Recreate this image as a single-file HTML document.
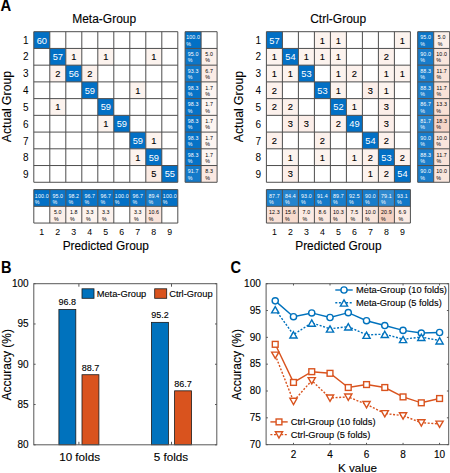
<!DOCTYPE html>
<html><head><meta charset="utf-8"><style>
html,body{margin:0;padding:0;background:#fff;}
body{width:450px;height:473px;overflow:hidden;}
svg{display:block;}
text{font-family:"Liberation Sans", sans-serif;}
text.k{stroke:#000;stroke-width:0.12px;}
</style></head><body>
<svg width="450" height="473" viewBox="0 0 450 473" font-family='"Liberation Sans", sans-serif'>
<rect width="450" height="473" fill="#fff"/>
<text x="0" y="0" font-size="14.8" font-weight="bold" transform="translate(0.4,11.2) scale(1,1.1)">A</text>
<text x="0" y="0" font-size="14.6" font-weight="bold" transform="translate(0.9,272.7) scale(1,1.1)">B</text>
<text x="0" y="0" font-size="14.6" font-weight="bold" transform="translate(230.5,272.8) scale(1,1.1)">C</text>
<rect x="33.80" y="31.70" width="16.00" height="16.73" fill="#0270c5"/>
<text x="41.80" y="43.56" font-size="9.3" text-anchor="middle" fill="#fff" font-weight="normal" >60</text>
<rect x="49.80" y="48.43" width="16.00" height="16.73" fill="#0270c5"/>
<text x="57.80" y="60.30" font-size="9.3" text-anchor="middle" fill="#fff" font-weight="normal" >57</text>
<rect x="65.80" y="48.43" width="16.00" height="16.73" fill="#fcf3ee"/>
<text x="73.80" y="60.30" font-size="9.3" text-anchor="middle" fill="#000" font-weight="normal"  stroke="#000" stroke-width="0.12">1</text>
<rect x="97.80" y="48.43" width="16.00" height="16.73" fill="#fcf3ee"/>
<text x="105.80" y="60.30" font-size="9.3" text-anchor="middle" fill="#000" font-weight="normal"  stroke="#000" stroke-width="0.12">1</text>
<rect x="145.80" y="48.43" width="16.00" height="16.73" fill="#fcf3ee"/>
<text x="153.80" y="60.30" font-size="9.3" text-anchor="middle" fill="#000" font-weight="normal"  stroke="#000" stroke-width="0.12">1</text>
<rect x="49.80" y="65.16" width="16.00" height="16.73" fill="#fcf1ec"/>
<text x="57.80" y="77.02" font-size="9.3" text-anchor="middle" fill="#000" font-weight="normal"  stroke="#000" stroke-width="0.12">2</text>
<rect x="65.80" y="65.16" width="16.00" height="16.73" fill="#0270c5"/>
<text x="73.80" y="77.02" font-size="9.3" text-anchor="middle" fill="#fff" font-weight="normal" >56</text>
<rect x="81.80" y="65.16" width="16.00" height="16.73" fill="#fcf1ec"/>
<text x="89.80" y="77.02" font-size="9.3" text-anchor="middle" fill="#000" font-weight="normal"  stroke="#000" stroke-width="0.12">2</text>
<rect x="81.80" y="81.89" width="16.00" height="16.73" fill="#0270c5"/>
<text x="89.80" y="93.75" font-size="9.3" text-anchor="middle" fill="#fff" font-weight="normal" >59</text>
<rect x="129.80" y="81.89" width="16.00" height="16.73" fill="#fcf3ee"/>
<text x="137.80" y="93.75" font-size="9.3" text-anchor="middle" fill="#000" font-weight="normal"  stroke="#000" stroke-width="0.12">1</text>
<rect x="49.80" y="98.62" width="16.00" height="16.73" fill="#fcf3ee"/>
<text x="57.80" y="110.48" font-size="9.3" text-anchor="middle" fill="#000" font-weight="normal"  stroke="#000" stroke-width="0.12">1</text>
<rect x="97.80" y="98.62" width="16.00" height="16.73" fill="#0270c5"/>
<text x="105.80" y="110.48" font-size="9.3" text-anchor="middle" fill="#fff" font-weight="normal" >59</text>
<rect x="97.80" y="115.35" width="16.00" height="16.73" fill="#fcf3ee"/>
<text x="105.80" y="127.22" font-size="9.3" text-anchor="middle" fill="#000" font-weight="normal"  stroke="#000" stroke-width="0.12">1</text>
<rect x="113.80" y="115.35" width="16.00" height="16.73" fill="#0270c5"/>
<text x="121.80" y="127.22" font-size="9.3" text-anchor="middle" fill="#fff" font-weight="normal" >59</text>
<rect x="129.80" y="132.08" width="16.00" height="16.73" fill="#0270c5"/>
<text x="137.80" y="143.94" font-size="9.3" text-anchor="middle" fill="#fff" font-weight="normal" >59</text>
<rect x="145.80" y="132.08" width="16.00" height="16.73" fill="#fcf3ee"/>
<text x="153.80" y="143.94" font-size="9.3" text-anchor="middle" fill="#000" font-weight="normal"  stroke="#000" stroke-width="0.12">1</text>
<rect x="129.80" y="148.81" width="16.00" height="16.73" fill="#fcf3ee"/>
<text x="137.80" y="160.68" font-size="9.3" text-anchor="middle" fill="#000" font-weight="normal"  stroke="#000" stroke-width="0.12">1</text>
<rect x="145.80" y="148.81" width="16.00" height="16.73" fill="#0270c5"/>
<text x="153.80" y="160.68" font-size="9.3" text-anchor="middle" fill="#fff" font-weight="normal" >59</text>
<rect x="145.80" y="165.54" width="16.00" height="16.73" fill="#faeae3"/>
<text x="153.80" y="177.41" font-size="9.3" text-anchor="middle" fill="#000" font-weight="normal"  stroke="#000" stroke-width="0.12">5</text>
<rect x="161.80" y="165.54" width="16.00" height="16.73" fill="#0270c5"/>
<text x="169.80" y="177.41" font-size="9.3" text-anchor="middle" fill="#fff" font-weight="normal" >55</text>
<line x1="33.80" y1="31.70" x2="33.80" y2="182.27" stroke="#4e4e4e" stroke-width="1"/>
<line x1="33.80" y1="31.70" x2="177.80" y2="31.70" stroke="#4e4e4e" stroke-width="1"/>
<line x1="49.80" y1="31.70" x2="49.80" y2="182.27" stroke="#4e4e4e" stroke-width="1"/>
<line x1="33.80" y1="48.43" x2="177.80" y2="48.43" stroke="#4e4e4e" stroke-width="1"/>
<line x1="65.80" y1="31.70" x2="65.80" y2="182.27" stroke="#4e4e4e" stroke-width="1"/>
<line x1="33.80" y1="65.16" x2="177.80" y2="65.16" stroke="#4e4e4e" stroke-width="1"/>
<line x1="81.80" y1="31.70" x2="81.80" y2="182.27" stroke="#4e4e4e" stroke-width="1"/>
<line x1="33.80" y1="81.89" x2="177.80" y2="81.89" stroke="#4e4e4e" stroke-width="1"/>
<line x1="97.80" y1="31.70" x2="97.80" y2="182.27" stroke="#4e4e4e" stroke-width="1"/>
<line x1="33.80" y1="98.62" x2="177.80" y2="98.62" stroke="#4e4e4e" stroke-width="1"/>
<line x1="113.80" y1="31.70" x2="113.80" y2="182.27" stroke="#4e4e4e" stroke-width="1"/>
<line x1="33.80" y1="115.35" x2="177.80" y2="115.35" stroke="#4e4e4e" stroke-width="1"/>
<line x1="129.80" y1="31.70" x2="129.80" y2="182.27" stroke="#4e4e4e" stroke-width="1"/>
<line x1="33.80" y1="132.08" x2="177.80" y2="132.08" stroke="#4e4e4e" stroke-width="1"/>
<line x1="145.80" y1="31.70" x2="145.80" y2="182.27" stroke="#4e4e4e" stroke-width="1"/>
<line x1="33.80" y1="148.81" x2="177.80" y2="148.81" stroke="#4e4e4e" stroke-width="1"/>
<line x1="161.80" y1="31.70" x2="161.80" y2="182.27" stroke="#4e4e4e" stroke-width="1"/>
<line x1="33.80" y1="165.54" x2="177.80" y2="165.54" stroke="#4e4e4e" stroke-width="1"/>
<line x1="177.80" y1="31.70" x2="177.80" y2="182.27" stroke="#4e4e4e" stroke-width="1"/>
<line x1="33.80" y1="182.27" x2="177.80" y2="182.27" stroke="#4e4e4e" stroke-width="1"/>
<text x="28.50" y="43.56" font-size="10" text-anchor="end" fill="#000" font-weight="normal" >1</text>
<text x="28.50" y="60.41" font-size="10" text-anchor="end" fill="#000" font-weight="normal" >2</text>
<text x="28.50" y="77.24" font-size="10" text-anchor="end" fill="#000" font-weight="normal" >3</text>
<text x="28.50" y="94.08" font-size="10" text-anchor="end" fill="#000" font-weight="normal" >4</text>
<text x="28.50" y="110.92" font-size="10" text-anchor="end" fill="#000" font-weight="normal" >5</text>
<text x="28.50" y="127.77" font-size="10" text-anchor="end" fill="#000" font-weight="normal" >6</text>
<text x="28.50" y="144.60" font-size="10" text-anchor="end" fill="#000" font-weight="normal" >7</text>
<text x="28.50" y="161.45" font-size="10" text-anchor="end" fill="#000" font-weight="normal" >8</text>
<text x="28.50" y="178.28" font-size="10" text-anchor="end" fill="#000" font-weight="normal" >9</text>
<rect x="185.10" y="31.70" width="16.00" height="16.73" fill="#0270c5"/>
<text x="186.17" y="39.40" font-size="5.3" text-anchor="start" fill="#fff" font-weight="normal" letter-spacing="0.12">100.0</text>
<text x="186.17" y="45.70" font-size="5.3" text-anchor="start" fill="#fff" font-weight="normal" >%</text>
<rect x="185.10" y="48.43" width="16.00" height="16.73" fill="#0d76c7"/>
<text x="187.70" y="56.13" font-size="5.3" text-anchor="start" fill="#fff" font-weight="normal" letter-spacing="0.12">95.0</text>
<text x="187.70" y="62.43" font-size="5.3" text-anchor="start" fill="#fff" font-weight="normal" >%</text>
<rect x="201.10" y="48.43" width="16.00" height="16.73" fill="#fbefe9"/>
<text x="205.24" y="56.13" font-size="5.3" text-anchor="start" fill="#000" font-weight="normal" letter-spacing="0.12">5.0</text>
<text x="205.24" y="62.43" font-size="5.3" text-anchor="start" fill="#000" font-weight="normal" >%</text>
<rect x="185.10" y="65.16" width="16.00" height="16.73" fill="#1078c8"/>
<text x="187.70" y="72.86" font-size="5.3" text-anchor="start" fill="#fff" font-weight="normal" letter-spacing="0.12">93.3</text>
<text x="187.70" y="79.16" font-size="5.3" text-anchor="start" fill="#fff" font-weight="normal" >%</text>
<rect x="201.10" y="65.16" width="16.00" height="16.73" fill="#fbebe5"/>
<text x="205.24" y="72.86" font-size="5.3" text-anchor="start" fill="#000" font-weight="normal" letter-spacing="0.12">6.7</text>
<text x="205.24" y="79.16" font-size="5.3" text-anchor="start" fill="#000" font-weight="normal" >%</text>
<rect x="185.10" y="81.89" width="16.00" height="16.73" fill="#0672c6"/>
<text x="187.70" y="89.59" font-size="5.3" text-anchor="start" fill="#fff" font-weight="normal" letter-spacing="0.12">98.3</text>
<text x="187.70" y="95.89" font-size="5.3" text-anchor="start" fill="#fff" font-weight="normal" >%</text>
<rect x="201.10" y="81.89" width="16.00" height="16.73" fill="#fdf5f1"/>
<text x="205.24" y="89.59" font-size="5.3" text-anchor="start" fill="#000" font-weight="normal" letter-spacing="0.12">1.7</text>
<text x="205.24" y="95.89" font-size="5.3" text-anchor="start" fill="#000" font-weight="normal" >%</text>
<rect x="185.10" y="98.62" width="16.00" height="16.73" fill="#0672c6"/>
<text x="187.70" y="106.32" font-size="5.3" text-anchor="start" fill="#fff" font-weight="normal" letter-spacing="0.12">98.3</text>
<text x="187.70" y="112.62" font-size="5.3" text-anchor="start" fill="#fff" font-weight="normal" >%</text>
<rect x="201.10" y="98.62" width="16.00" height="16.73" fill="#fdf5f1"/>
<text x="205.24" y="106.32" font-size="5.3" text-anchor="start" fill="#000" font-weight="normal" letter-spacing="0.12">1.7</text>
<text x="205.24" y="112.62" font-size="5.3" text-anchor="start" fill="#000" font-weight="normal" >%</text>
<rect x="185.10" y="115.35" width="16.00" height="16.73" fill="#0672c6"/>
<text x="187.70" y="123.05" font-size="5.3" text-anchor="start" fill="#fff" font-weight="normal" letter-spacing="0.12">98.3</text>
<text x="187.70" y="129.35" font-size="5.3" text-anchor="start" fill="#fff" font-weight="normal" >%</text>
<rect x="201.10" y="115.35" width="16.00" height="16.73" fill="#fdf5f1"/>
<text x="205.24" y="123.05" font-size="5.3" text-anchor="start" fill="#000" font-weight="normal" letter-spacing="0.12">1.7</text>
<text x="205.24" y="129.35" font-size="5.3" text-anchor="start" fill="#000" font-weight="normal" >%</text>
<rect x="185.10" y="132.08" width="16.00" height="16.73" fill="#0672c6"/>
<text x="187.70" y="139.78" font-size="5.3" text-anchor="start" fill="#fff" font-weight="normal" letter-spacing="0.12">98.3</text>
<text x="187.70" y="146.08" font-size="5.3" text-anchor="start" fill="#fff" font-weight="normal" >%</text>
<rect x="201.10" y="132.08" width="16.00" height="16.73" fill="#fdf5f1"/>
<text x="205.24" y="139.78" font-size="5.3" text-anchor="start" fill="#000" font-weight="normal" letter-spacing="0.12">1.7</text>
<text x="205.24" y="146.08" font-size="5.3" text-anchor="start" fill="#000" font-weight="normal" >%</text>
<rect x="185.10" y="148.81" width="16.00" height="16.73" fill="#0672c6"/>
<text x="187.70" y="156.51" font-size="5.3" text-anchor="start" fill="#fff" font-weight="normal" letter-spacing="0.12">98.3</text>
<text x="187.70" y="162.81" font-size="5.3" text-anchor="start" fill="#fff" font-weight="normal" >%</text>
<rect x="201.10" y="148.81" width="16.00" height="16.73" fill="#fdf5f1"/>
<text x="205.24" y="156.51" font-size="5.3" text-anchor="start" fill="#000" font-weight="normal" letter-spacing="0.12">1.7</text>
<text x="205.24" y="162.81" font-size="5.3" text-anchor="start" fill="#000" font-weight="normal" >%</text>
<rect x="185.10" y="165.54" width="16.00" height="16.73" fill="#147ac9"/>
<text x="187.70" y="173.24" font-size="5.3" text-anchor="start" fill="#fff" font-weight="normal" letter-spacing="0.12">91.7</text>
<text x="187.70" y="179.54" font-size="5.3" text-anchor="start" fill="#fff" font-weight="normal" >%</text>
<rect x="201.10" y="165.54" width="16.00" height="16.73" fill="#fae8e1"/>
<text x="205.24" y="173.24" font-size="5.3" text-anchor="start" fill="#000" font-weight="normal" letter-spacing="0.12">8.3</text>
<text x="205.24" y="179.54" font-size="5.3" text-anchor="start" fill="#000" font-weight="normal" >%</text>
<line x1="185.10" y1="31.70" x2="185.10" y2="182.27" stroke="#4e4e4e" stroke-width="1"/>
<line x1="201.10" y1="31.70" x2="201.10" y2="182.27" stroke="#4e4e4e" stroke-width="1"/>
<line x1="217.10" y1="31.70" x2="217.10" y2="182.27" stroke="#4e4e4e" stroke-width="1"/>
<line x1="185.10" y1="31.70" x2="217.10" y2="31.70" stroke="#4e4e4e" stroke-width="1"/>
<line x1="185.10" y1="48.43" x2="217.10" y2="48.43" stroke="#4e4e4e" stroke-width="1"/>
<line x1="185.10" y1="65.16" x2="217.10" y2="65.16" stroke="#4e4e4e" stroke-width="1"/>
<line x1="185.10" y1="81.89" x2="217.10" y2="81.89" stroke="#4e4e4e" stroke-width="1"/>
<line x1="185.10" y1="98.62" x2="217.10" y2="98.62" stroke="#4e4e4e" stroke-width="1"/>
<line x1="185.10" y1="115.35" x2="217.10" y2="115.35" stroke="#4e4e4e" stroke-width="1"/>
<line x1="185.10" y1="132.08" x2="217.10" y2="132.08" stroke="#4e4e4e" stroke-width="1"/>
<line x1="185.10" y1="148.81" x2="217.10" y2="148.81" stroke="#4e4e4e" stroke-width="1"/>
<line x1="185.10" y1="165.54" x2="217.10" y2="165.54" stroke="#4e4e4e" stroke-width="1"/>
<line x1="185.10" y1="182.27" x2="217.10" y2="182.27" stroke="#4e4e4e" stroke-width="1"/>
<rect x="33.80" y="189.60" width="16.00" height="16.73" fill="#0270c5"/>
<text x="34.87" y="197.50" font-size="5.3" text-anchor="start" fill="#fff" font-weight="normal" letter-spacing="0.12">100.0</text>
<text x="34.87" y="203.80" font-size="5.3" text-anchor="start" fill="#fff" font-weight="normal" >%</text>
<rect x="49.80" y="189.60" width="16.00" height="16.73" fill="#0d76c7"/>
<text x="52.40" y="197.50" font-size="5.3" text-anchor="start" fill="#fff" font-weight="normal" letter-spacing="0.12">95.0</text>
<text x="52.40" y="203.80" font-size="5.3" text-anchor="start" fill="#fff" font-weight="normal" >%</text>
<rect x="49.80" y="206.33" width="16.00" height="16.73" fill="#fbefe9"/>
<text x="53.94" y="214.23" font-size="5.3" text-anchor="start" fill="#000" font-weight="normal" letter-spacing="0.12">5.0</text>
<text x="53.94" y="220.53" font-size="5.3" text-anchor="start" fill="#000" font-weight="normal" >%</text>
<rect x="65.80" y="189.60" width="16.00" height="16.73" fill="#0672c6"/>
<text x="68.40" y="197.50" font-size="5.3" text-anchor="start" fill="#fff" font-weight="normal" letter-spacing="0.12">98.2</text>
<text x="68.40" y="203.80" font-size="5.3" text-anchor="start" fill="#fff" font-weight="normal" >%</text>
<rect x="65.80" y="206.33" width="16.00" height="16.73" fill="#fdf5f1"/>
<text x="69.94" y="214.23" font-size="5.3" text-anchor="start" fill="#000" font-weight="normal" letter-spacing="0.12">1.8</text>
<text x="69.94" y="220.53" font-size="5.3" text-anchor="start" fill="#000" font-weight="normal" >%</text>
<rect x="81.80" y="189.60" width="16.00" height="16.73" fill="#0974c7"/>
<text x="84.40" y="197.50" font-size="5.3" text-anchor="start" fill="#fff" font-weight="normal" letter-spacing="0.12">96.7</text>
<text x="84.40" y="203.80" font-size="5.3" text-anchor="start" fill="#fff" font-weight="normal" >%</text>
<rect x="81.80" y="206.33" width="16.00" height="16.73" fill="#fcf2ed"/>
<text x="85.94" y="214.23" font-size="5.3" text-anchor="start" fill="#000" font-weight="normal" letter-spacing="0.12">3.3</text>
<text x="85.94" y="220.53" font-size="5.3" text-anchor="start" fill="#000" font-weight="normal" >%</text>
<rect x="97.80" y="189.60" width="16.00" height="16.73" fill="#0974c7"/>
<text x="100.40" y="197.50" font-size="5.3" text-anchor="start" fill="#fff" font-weight="normal" letter-spacing="0.12">96.7</text>
<text x="100.40" y="203.80" font-size="5.3" text-anchor="start" fill="#fff" font-weight="normal" >%</text>
<rect x="97.80" y="206.33" width="16.00" height="16.73" fill="#fcf2ed"/>
<text x="101.94" y="214.23" font-size="5.3" text-anchor="start" fill="#000" font-weight="normal" letter-spacing="0.12">3.3</text>
<text x="101.94" y="220.53" font-size="5.3" text-anchor="start" fill="#000" font-weight="normal" >%</text>
<rect x="113.80" y="189.60" width="16.00" height="16.73" fill="#0270c5"/>
<text x="114.87" y="197.50" font-size="5.3" text-anchor="start" fill="#fff" font-weight="normal" letter-spacing="0.12">100.0</text>
<text x="114.87" y="203.80" font-size="5.3" text-anchor="start" fill="#fff" font-weight="normal" >%</text>
<rect x="129.80" y="189.60" width="16.00" height="16.73" fill="#0974c7"/>
<text x="132.40" y="197.50" font-size="5.3" text-anchor="start" fill="#fff" font-weight="normal" letter-spacing="0.12">96.7</text>
<text x="132.40" y="203.80" font-size="5.3" text-anchor="start" fill="#fff" font-weight="normal" >%</text>
<rect x="129.80" y="206.33" width="16.00" height="16.73" fill="#fcf2ed"/>
<text x="133.94" y="214.23" font-size="5.3" text-anchor="start" fill="#000" font-weight="normal" letter-spacing="0.12">3.3</text>
<text x="133.94" y="220.53" font-size="5.3" text-anchor="start" fill="#000" font-weight="normal" >%</text>
<rect x="145.80" y="189.60" width="16.00" height="16.73" fill="#197dca"/>
<text x="148.40" y="197.50" font-size="5.3" text-anchor="start" fill="#fff" font-weight="normal" letter-spacing="0.12">89.4</text>
<text x="148.40" y="203.80" font-size="5.3" text-anchor="start" fill="#fff" font-weight="normal" >%</text>
<rect x="145.80" y="206.33" width="16.00" height="16.73" fill="#f9e4db"/>
<text x="148.40" y="214.23" font-size="5.3" text-anchor="start" fill="#000" font-weight="normal" letter-spacing="0.12">10.6</text>
<text x="148.40" y="220.53" font-size="5.3" text-anchor="start" fill="#000" font-weight="normal" >%</text>
<rect x="161.80" y="189.60" width="16.00" height="16.73" fill="#0270c5"/>
<text x="162.87" y="197.50" font-size="5.3" text-anchor="start" fill="#fff" font-weight="normal" letter-spacing="0.12">100.0</text>
<text x="162.87" y="203.80" font-size="5.3" text-anchor="start" fill="#fff" font-weight="normal" >%</text>
<line x1="33.80" y1="189.60" x2="33.80" y2="223.06" stroke="#4e4e4e" stroke-width="1"/>
<line x1="49.80" y1="189.60" x2="49.80" y2="223.06" stroke="#4e4e4e" stroke-width="1"/>
<line x1="65.80" y1="189.60" x2="65.80" y2="223.06" stroke="#4e4e4e" stroke-width="1"/>
<line x1="81.80" y1="189.60" x2="81.80" y2="223.06" stroke="#4e4e4e" stroke-width="1"/>
<line x1="97.80" y1="189.60" x2="97.80" y2="223.06" stroke="#4e4e4e" stroke-width="1"/>
<line x1="113.80" y1="189.60" x2="113.80" y2="223.06" stroke="#4e4e4e" stroke-width="1"/>
<line x1="129.80" y1="189.60" x2="129.80" y2="223.06" stroke="#4e4e4e" stroke-width="1"/>
<line x1="145.80" y1="189.60" x2="145.80" y2="223.06" stroke="#4e4e4e" stroke-width="1"/>
<line x1="161.80" y1="189.60" x2="161.80" y2="223.06" stroke="#4e4e4e" stroke-width="1"/>
<line x1="177.80" y1="189.60" x2="177.80" y2="223.06" stroke="#4e4e4e" stroke-width="1"/>
<line x1="33.80" y1="189.60" x2="177.80" y2="189.60" stroke="#4e4e4e" stroke-width="1"/>
<line x1="33.80" y1="206.33" x2="177.80" y2="206.33" stroke="#4e4e4e" stroke-width="1"/>
<line x1="33.80" y1="223.06" x2="177.80" y2="223.06" stroke="#4e4e4e" stroke-width="1"/>
<text x="41.80" y="235.30" font-size="8.8" text-anchor="middle" fill="#000" font-weight="normal" >1</text>
<text x="57.80" y="235.30" font-size="8.8" text-anchor="middle" fill="#000" font-weight="normal" >2</text>
<text x="73.80" y="235.30" font-size="8.8" text-anchor="middle" fill="#000" font-weight="normal" >3</text>
<text x="89.80" y="235.30" font-size="8.8" text-anchor="middle" fill="#000" font-weight="normal" >4</text>
<text x="105.80" y="235.30" font-size="8.8" text-anchor="middle" fill="#000" font-weight="normal" >5</text>
<text x="121.80" y="235.30" font-size="8.8" text-anchor="middle" fill="#000" font-weight="normal" >6</text>
<text x="137.80" y="235.30" font-size="8.8" text-anchor="middle" fill="#000" font-weight="normal" >7</text>
<text x="153.80" y="235.30" font-size="8.8" text-anchor="middle" fill="#000" font-weight="normal" >8</text>
<text x="169.80" y="235.30" font-size="8.8" text-anchor="middle" fill="#000" font-weight="normal" >9</text>
<text class="k" x="72.20" y="22.80" font-size="12.0" text-anchor="start" fill="#000" font-weight="normal" >Meta-Group</text>
<text class="k" x="105.80" y="249.90" font-size="11.85" text-anchor="middle" fill="#000" font-weight="normal" >Predicted Group</text>
<text x="0" y="0" font-size="12.2" class="k" text-anchor="middle" transform="translate(10.60,106.58) rotate(-90)">Actual Group</text>
<rect x="266.40" y="31.70" width="16.00" height="16.73" fill="#0270c5"/>
<text x="274.40" y="43.56" font-size="9.3" text-anchor="middle" fill="#fff" font-weight="normal" >57</text>
<rect x="314.40" y="31.70" width="16.00" height="16.73" fill="#fcf3ee"/>
<text x="322.40" y="43.56" font-size="9.3" text-anchor="middle" fill="#000" font-weight="normal"  stroke="#000" stroke-width="0.12">1</text>
<rect x="330.40" y="31.70" width="16.00" height="16.73" fill="#fcf3ee"/>
<text x="338.40" y="43.56" font-size="9.3" text-anchor="middle" fill="#000" font-weight="normal"  stroke="#000" stroke-width="0.12">1</text>
<rect x="394.40" y="31.70" width="16.00" height="16.73" fill="#fcf3ee"/>
<text x="402.40" y="43.56" font-size="9.3" text-anchor="middle" fill="#000" font-weight="normal"  stroke="#000" stroke-width="0.12">1</text>
<rect x="266.40" y="48.43" width="16.00" height="16.73" fill="#fcf3ee"/>
<text x="274.40" y="60.30" font-size="9.3" text-anchor="middle" fill="#000" font-weight="normal"  stroke="#000" stroke-width="0.12">1</text>
<rect x="282.40" y="48.43" width="16.00" height="16.73" fill="#0270c5"/>
<text x="290.40" y="60.30" font-size="9.3" text-anchor="middle" fill="#fff" font-weight="normal" >54</text>
<rect x="298.40" y="48.43" width="16.00" height="16.73" fill="#fcf3ee"/>
<text x="306.40" y="60.30" font-size="9.3" text-anchor="middle" fill="#000" font-weight="normal"  stroke="#000" stroke-width="0.12">1</text>
<rect x="314.40" y="48.43" width="16.00" height="16.73" fill="#fcf3ee"/>
<text x="322.40" y="60.30" font-size="9.3" text-anchor="middle" fill="#000" font-weight="normal"  stroke="#000" stroke-width="0.12">1</text>
<rect x="330.40" y="48.43" width="16.00" height="16.73" fill="#fcf3ee"/>
<text x="338.40" y="60.30" font-size="9.3" text-anchor="middle" fill="#000" font-weight="normal"  stroke="#000" stroke-width="0.12">1</text>
<rect x="378.40" y="48.43" width="16.00" height="16.73" fill="#fcf1ec"/>
<text x="386.40" y="60.30" font-size="9.3" text-anchor="middle" fill="#000" font-weight="normal"  stroke="#000" stroke-width="0.12">2</text>
<rect x="266.40" y="65.16" width="16.00" height="16.73" fill="#fcf3ee"/>
<text x="274.40" y="77.02" font-size="9.3" text-anchor="middle" fill="#000" font-weight="normal"  stroke="#000" stroke-width="0.12">1</text>
<rect x="282.40" y="65.16" width="16.00" height="16.73" fill="#fcf3ee"/>
<text x="290.40" y="77.02" font-size="9.3" text-anchor="middle" fill="#000" font-weight="normal"  stroke="#000" stroke-width="0.12">1</text>
<rect x="298.40" y="65.16" width="16.00" height="16.73" fill="#0270c5"/>
<text x="306.40" y="77.02" font-size="9.3" text-anchor="middle" fill="#fff" font-weight="normal" >53</text>
<rect x="330.40" y="65.16" width="16.00" height="16.73" fill="#fcf3ee"/>
<text x="338.40" y="77.02" font-size="9.3" text-anchor="middle" fill="#000" font-weight="normal"  stroke="#000" stroke-width="0.12">1</text>
<rect x="346.40" y="65.16" width="16.00" height="16.73" fill="#fcf1ec"/>
<text x="354.40" y="77.02" font-size="9.3" text-anchor="middle" fill="#000" font-weight="normal"  stroke="#000" stroke-width="0.12">2</text>
<rect x="378.40" y="65.16" width="16.00" height="16.73" fill="#fcf3ee"/>
<text x="386.40" y="77.02" font-size="9.3" text-anchor="middle" fill="#000" font-weight="normal"  stroke="#000" stroke-width="0.12">1</text>
<rect x="394.40" y="65.16" width="16.00" height="16.73" fill="#fcf3ee"/>
<text x="402.40" y="77.02" font-size="9.3" text-anchor="middle" fill="#000" font-weight="normal"  stroke="#000" stroke-width="0.12">1</text>
<rect x="266.40" y="81.89" width="16.00" height="16.73" fill="#fcf1ec"/>
<text x="274.40" y="93.75" font-size="9.3" text-anchor="middle" fill="#000" font-weight="normal"  stroke="#000" stroke-width="0.12">2</text>
<rect x="314.40" y="81.89" width="16.00" height="16.73" fill="#0270c5"/>
<text x="322.40" y="93.75" font-size="9.3" text-anchor="middle" fill="#fff" font-weight="normal" >53</text>
<rect x="330.40" y="81.89" width="16.00" height="16.73" fill="#fcf3ee"/>
<text x="338.40" y="93.75" font-size="9.3" text-anchor="middle" fill="#000" font-weight="normal"  stroke="#000" stroke-width="0.12">1</text>
<rect x="362.40" y="81.89" width="16.00" height="16.73" fill="#fbeee9"/>
<text x="370.40" y="93.75" font-size="9.3" text-anchor="middle" fill="#000" font-weight="normal"  stroke="#000" stroke-width="0.12">3</text>
<rect x="378.40" y="81.89" width="16.00" height="16.73" fill="#fcf3ee"/>
<text x="386.40" y="93.75" font-size="9.3" text-anchor="middle" fill="#000" font-weight="normal"  stroke="#000" stroke-width="0.12">1</text>
<rect x="266.40" y="98.62" width="16.00" height="16.73" fill="#fcf1ec"/>
<text x="274.40" y="110.48" font-size="9.3" text-anchor="middle" fill="#000" font-weight="normal"  stroke="#000" stroke-width="0.12">2</text>
<rect x="282.40" y="98.62" width="16.00" height="16.73" fill="#fcf1ec"/>
<text x="290.40" y="110.48" font-size="9.3" text-anchor="middle" fill="#000" font-weight="normal"  stroke="#000" stroke-width="0.12">2</text>
<rect x="330.40" y="98.62" width="16.00" height="16.73" fill="#0270c5"/>
<text x="338.40" y="110.48" font-size="9.3" text-anchor="middle" fill="#fff" font-weight="normal" >52</text>
<rect x="346.40" y="98.62" width="16.00" height="16.73" fill="#fcf3ee"/>
<text x="354.40" y="110.48" font-size="9.3" text-anchor="middle" fill="#000" font-weight="normal"  stroke="#000" stroke-width="0.12">1</text>
<rect x="378.40" y="98.62" width="16.00" height="16.73" fill="#fbeee9"/>
<text x="386.40" y="110.48" font-size="9.3" text-anchor="middle" fill="#000" font-weight="normal"  stroke="#000" stroke-width="0.12">3</text>
<rect x="282.40" y="115.35" width="16.00" height="16.73" fill="#fbeee9"/>
<text x="290.40" y="127.22" font-size="9.3" text-anchor="middle" fill="#000" font-weight="normal"  stroke="#000" stroke-width="0.12">3</text>
<rect x="298.40" y="115.35" width="16.00" height="16.73" fill="#fbeee9"/>
<text x="306.40" y="127.22" font-size="9.3" text-anchor="middle" fill="#000" font-weight="normal"  stroke="#000" stroke-width="0.12">3</text>
<rect x="330.40" y="115.35" width="16.00" height="16.73" fill="#fcf1ec"/>
<text x="338.40" y="127.22" font-size="9.3" text-anchor="middle" fill="#000" font-weight="normal"  stroke="#000" stroke-width="0.12">2</text>
<rect x="346.40" y="115.35" width="16.00" height="16.73" fill="#0270c5"/>
<text x="354.40" y="127.22" font-size="9.3" text-anchor="middle" fill="#fff" font-weight="normal" >49</text>
<rect x="378.40" y="115.35" width="16.00" height="16.73" fill="#fbeee9"/>
<text x="386.40" y="127.22" font-size="9.3" text-anchor="middle" fill="#000" font-weight="normal"  stroke="#000" stroke-width="0.12">3</text>
<rect x="266.40" y="132.08" width="16.00" height="16.73" fill="#fcf1ec"/>
<text x="274.40" y="143.94" font-size="9.3" text-anchor="middle" fill="#000" font-weight="normal"  stroke="#000" stroke-width="0.12">2</text>
<rect x="314.40" y="132.08" width="16.00" height="16.73" fill="#fcf1ec"/>
<text x="322.40" y="143.94" font-size="9.3" text-anchor="middle" fill="#000" font-weight="normal"  stroke="#000" stroke-width="0.12">2</text>
<rect x="362.40" y="132.08" width="16.00" height="16.73" fill="#0270c5"/>
<text x="370.40" y="143.94" font-size="9.3" text-anchor="middle" fill="#fff" font-weight="normal" >54</text>
<rect x="378.40" y="132.08" width="16.00" height="16.73" fill="#fcf1ec"/>
<text x="386.40" y="143.94" font-size="9.3" text-anchor="middle" fill="#000" font-weight="normal"  stroke="#000" stroke-width="0.12">2</text>
<rect x="282.40" y="148.81" width="16.00" height="16.73" fill="#fcf3ee"/>
<text x="290.40" y="160.68" font-size="9.3" text-anchor="middle" fill="#000" font-weight="normal"  stroke="#000" stroke-width="0.12">1</text>
<rect x="314.40" y="148.81" width="16.00" height="16.73" fill="#fcf3ee"/>
<text x="322.40" y="160.68" font-size="9.3" text-anchor="middle" fill="#000" font-weight="normal"  stroke="#000" stroke-width="0.12">1</text>
<rect x="346.40" y="148.81" width="16.00" height="16.73" fill="#fcf3ee"/>
<text x="354.40" y="160.68" font-size="9.3" text-anchor="middle" fill="#000" font-weight="normal"  stroke="#000" stroke-width="0.12">1</text>
<rect x="362.40" y="148.81" width="16.00" height="16.73" fill="#fcf1ec"/>
<text x="370.40" y="160.68" font-size="9.3" text-anchor="middle" fill="#000" font-weight="normal"  stroke="#000" stroke-width="0.12">2</text>
<rect x="378.40" y="148.81" width="16.00" height="16.73" fill="#0270c5"/>
<text x="386.40" y="160.68" font-size="9.3" text-anchor="middle" fill="#fff" font-weight="normal" >53</text>
<rect x="394.40" y="148.81" width="16.00" height="16.73" fill="#fcf1ec"/>
<text x="402.40" y="160.68" font-size="9.3" text-anchor="middle" fill="#000" font-weight="normal"  stroke="#000" stroke-width="0.12">2</text>
<rect x="282.40" y="165.54" width="16.00" height="16.73" fill="#fbeee9"/>
<text x="290.40" y="177.41" font-size="9.3" text-anchor="middle" fill="#000" font-weight="normal"  stroke="#000" stroke-width="0.12">3</text>
<rect x="362.40" y="165.54" width="16.00" height="16.73" fill="#fcf3ee"/>
<text x="370.40" y="177.41" font-size="9.3" text-anchor="middle" fill="#000" font-weight="normal"  stroke="#000" stroke-width="0.12">1</text>
<rect x="378.40" y="165.54" width="16.00" height="16.73" fill="#fcf1ec"/>
<text x="386.40" y="177.41" font-size="9.3" text-anchor="middle" fill="#000" font-weight="normal"  stroke="#000" stroke-width="0.12">2</text>
<rect x="394.40" y="165.54" width="16.00" height="16.73" fill="#0270c5"/>
<text x="402.40" y="177.41" font-size="9.3" text-anchor="middle" fill="#fff" font-weight="normal" >54</text>
<line x1="266.40" y1="31.70" x2="266.40" y2="182.27" stroke="#4e4e4e" stroke-width="1"/>
<line x1="266.40" y1="31.70" x2="410.40" y2="31.70" stroke="#4e4e4e" stroke-width="1"/>
<line x1="282.40" y1="31.70" x2="282.40" y2="182.27" stroke="#4e4e4e" stroke-width="1"/>
<line x1="266.40" y1="48.43" x2="410.40" y2="48.43" stroke="#4e4e4e" stroke-width="1"/>
<line x1="298.40" y1="31.70" x2="298.40" y2="182.27" stroke="#4e4e4e" stroke-width="1"/>
<line x1="266.40" y1="65.16" x2="410.40" y2="65.16" stroke="#4e4e4e" stroke-width="1"/>
<line x1="314.40" y1="31.70" x2="314.40" y2="182.27" stroke="#4e4e4e" stroke-width="1"/>
<line x1="266.40" y1="81.89" x2="410.40" y2="81.89" stroke="#4e4e4e" stroke-width="1"/>
<line x1="330.40" y1="31.70" x2="330.40" y2="182.27" stroke="#4e4e4e" stroke-width="1"/>
<line x1="266.40" y1="98.62" x2="410.40" y2="98.62" stroke="#4e4e4e" stroke-width="1"/>
<line x1="346.40" y1="31.70" x2="346.40" y2="182.27" stroke="#4e4e4e" stroke-width="1"/>
<line x1="266.40" y1="115.35" x2="410.40" y2="115.35" stroke="#4e4e4e" stroke-width="1"/>
<line x1="362.40" y1="31.70" x2="362.40" y2="182.27" stroke="#4e4e4e" stroke-width="1"/>
<line x1="266.40" y1="132.08" x2="410.40" y2="132.08" stroke="#4e4e4e" stroke-width="1"/>
<line x1="378.40" y1="31.70" x2="378.40" y2="182.27" stroke="#4e4e4e" stroke-width="1"/>
<line x1="266.40" y1="148.81" x2="410.40" y2="148.81" stroke="#4e4e4e" stroke-width="1"/>
<line x1="394.40" y1="31.70" x2="394.40" y2="182.27" stroke="#4e4e4e" stroke-width="1"/>
<line x1="266.40" y1="165.54" x2="410.40" y2="165.54" stroke="#4e4e4e" stroke-width="1"/>
<line x1="410.40" y1="31.70" x2="410.40" y2="182.27" stroke="#4e4e4e" stroke-width="1"/>
<line x1="266.40" y1="182.27" x2="410.40" y2="182.27" stroke="#4e4e4e" stroke-width="1"/>
<text x="261.10" y="43.56" font-size="10" text-anchor="end" fill="#000" font-weight="normal" >1</text>
<text x="261.10" y="60.41" font-size="10" text-anchor="end" fill="#000" font-weight="normal" >2</text>
<text x="261.10" y="77.24" font-size="10" text-anchor="end" fill="#000" font-weight="normal" >3</text>
<text x="261.10" y="94.08" font-size="10" text-anchor="end" fill="#000" font-weight="normal" >4</text>
<text x="261.10" y="110.92" font-size="10" text-anchor="end" fill="#000" font-weight="normal" >5</text>
<text x="261.10" y="127.77" font-size="10" text-anchor="end" fill="#000" font-weight="normal" >6</text>
<text x="261.10" y="144.60" font-size="10" text-anchor="end" fill="#000" font-weight="normal" >7</text>
<text x="261.10" y="161.45" font-size="10" text-anchor="end" fill="#000" font-weight="normal" >8</text>
<text x="261.10" y="178.28" font-size="10" text-anchor="end" fill="#000" font-weight="normal" >9</text>
<rect x="417.70" y="31.70" width="16.00" height="16.73" fill="#0d76c7"/>
<text x="420.30" y="39.40" font-size="5.3" text-anchor="start" fill="#fff" font-weight="normal" letter-spacing="0.12">95.0</text>
<text x="420.30" y="45.70" font-size="5.3" text-anchor="start" fill="#fff" font-weight="normal" >%</text>
<rect x="433.70" y="31.70" width="16.00" height="16.73" fill="#fbefe9"/>
<text x="437.84" y="39.40" font-size="5.3" text-anchor="start" fill="#000" font-weight="normal" letter-spacing="0.12">5.0</text>
<text x="437.84" y="45.70" font-size="5.3" text-anchor="start" fill="#000" font-weight="normal" >%</text>
<rect x="417.70" y="48.43" width="16.00" height="16.73" fill="#187cca"/>
<text x="420.30" y="56.13" font-size="5.3" text-anchor="start" fill="#fff" font-weight="normal" letter-spacing="0.12">90.0</text>
<text x="420.30" y="62.43" font-size="5.3" text-anchor="start" fill="#fff" font-weight="normal" >%</text>
<rect x="433.70" y="48.43" width="16.00" height="16.73" fill="#f9e5dc"/>
<text x="436.30" y="56.13" font-size="5.3" text-anchor="start" fill="#000" font-weight="normal" letter-spacing="0.12">10.0</text>
<text x="436.30" y="62.43" font-size="5.3" text-anchor="start" fill="#000" font-weight="normal" >%</text>
<rect x="417.70" y="65.16" width="16.00" height="16.73" fill="#1b7ecb"/>
<text x="420.30" y="72.86" font-size="5.3" text-anchor="start" fill="#fff" font-weight="normal" letter-spacing="0.12">88.3</text>
<text x="420.30" y="79.16" font-size="5.3" text-anchor="start" fill="#fff" font-weight="normal" >%</text>
<rect x="433.70" y="65.16" width="16.00" height="16.73" fill="#f9e2d8"/>
<text x="436.50" y="72.86" font-size="5.3" text-anchor="start" fill="#000" font-weight="normal" letter-spacing="0.12">11.7</text>
<text x="436.50" y="79.16" font-size="5.3" text-anchor="start" fill="#000" font-weight="normal" >%</text>
<rect x="417.70" y="81.89" width="16.00" height="16.73" fill="#1b7ecb"/>
<text x="420.30" y="89.59" font-size="5.3" text-anchor="start" fill="#fff" font-weight="normal" letter-spacing="0.12">88.3</text>
<text x="420.30" y="95.89" font-size="5.3" text-anchor="start" fill="#fff" font-weight="normal" >%</text>
<rect x="433.70" y="81.89" width="16.00" height="16.73" fill="#f9e2d8"/>
<text x="436.50" y="89.59" font-size="5.3" text-anchor="start" fill="#000" font-weight="normal" letter-spacing="0.12">11.7</text>
<text x="436.50" y="95.89" font-size="5.3" text-anchor="start" fill="#000" font-weight="normal" >%</text>
<rect x="417.70" y="98.62" width="16.00" height="16.73" fill="#1f80cc"/>
<text x="420.30" y="106.32" font-size="5.3" text-anchor="start" fill="#fff" font-weight="normal" letter-spacing="0.12">86.7</text>
<text x="420.30" y="112.62" font-size="5.3" text-anchor="start" fill="#fff" font-weight="normal" >%</text>
<rect x="433.70" y="98.62" width="16.00" height="16.73" fill="#f8dfd4"/>
<text x="436.30" y="106.32" font-size="5.3" text-anchor="start" fill="#000" font-weight="normal" letter-spacing="0.12">13.3</text>
<text x="436.30" y="112.62" font-size="5.3" text-anchor="start" fill="#000" font-weight="normal" >%</text>
<rect x="417.70" y="115.35" width="16.00" height="16.73" fill="#2986ce"/>
<text x="420.30" y="123.05" font-size="5.3" text-anchor="start" fill="#fff" font-weight="normal" letter-spacing="0.12">81.7</text>
<text x="420.30" y="129.35" font-size="5.3" text-anchor="start" fill="#fff" font-weight="normal" >%</text>
<rect x="433.70" y="115.35" width="16.00" height="16.73" fill="#f6d5c8"/>
<text x="436.30" y="123.05" font-size="5.3" text-anchor="start" fill="#000" font-weight="normal" letter-spacing="0.12">18.3</text>
<text x="436.30" y="129.35" font-size="5.3" text-anchor="start" fill="#000" font-weight="normal" >%</text>
<rect x="417.70" y="132.08" width="16.00" height="16.73" fill="#187cca"/>
<text x="420.30" y="139.78" font-size="5.3" text-anchor="start" fill="#fff" font-weight="normal" letter-spacing="0.12">90.0</text>
<text x="420.30" y="146.08" font-size="5.3" text-anchor="start" fill="#fff" font-weight="normal" >%</text>
<rect x="433.70" y="132.08" width="16.00" height="16.73" fill="#f9e5dc"/>
<text x="436.30" y="139.78" font-size="5.3" text-anchor="start" fill="#000" font-weight="normal" letter-spacing="0.12">10.0</text>
<text x="436.30" y="146.08" font-size="5.3" text-anchor="start" fill="#000" font-weight="normal" >%</text>
<rect x="417.70" y="148.81" width="16.00" height="16.73" fill="#1b7ecb"/>
<text x="420.30" y="156.51" font-size="5.3" text-anchor="start" fill="#fff" font-weight="normal" letter-spacing="0.12">88.3</text>
<text x="420.30" y="162.81" font-size="5.3" text-anchor="start" fill="#fff" font-weight="normal" >%</text>
<rect x="433.70" y="148.81" width="16.00" height="16.73" fill="#f9e2d8"/>
<text x="436.50" y="156.51" font-size="5.3" text-anchor="start" fill="#000" font-weight="normal" letter-spacing="0.12">11.7</text>
<text x="436.50" y="162.81" font-size="5.3" text-anchor="start" fill="#000" font-weight="normal" >%</text>
<rect x="417.70" y="165.54" width="16.00" height="16.73" fill="#187cca"/>
<text x="420.30" y="173.24" font-size="5.3" text-anchor="start" fill="#fff" font-weight="normal" letter-spacing="0.12">90.0</text>
<text x="420.30" y="179.54" font-size="5.3" text-anchor="start" fill="#fff" font-weight="normal" >%</text>
<rect x="433.70" y="165.54" width="16.00" height="16.73" fill="#f9e5dc"/>
<text x="436.30" y="173.24" font-size="5.3" text-anchor="start" fill="#000" font-weight="normal" letter-spacing="0.12">10.0</text>
<text x="436.30" y="179.54" font-size="5.3" text-anchor="start" fill="#000" font-weight="normal" >%</text>
<line x1="417.70" y1="31.70" x2="417.70" y2="182.27" stroke="#4e4e4e" stroke-width="1"/>
<line x1="433.70" y1="31.70" x2="433.70" y2="182.27" stroke="#4e4e4e" stroke-width="1"/>
<line x1="449.70" y1="31.70" x2="449.70" y2="182.27" stroke="#4e4e4e" stroke-width="1"/>
<line x1="417.70" y1="31.70" x2="449.70" y2="31.70" stroke="#4e4e4e" stroke-width="1"/>
<line x1="417.70" y1="48.43" x2="449.70" y2="48.43" stroke="#4e4e4e" stroke-width="1"/>
<line x1="417.70" y1="65.16" x2="449.70" y2="65.16" stroke="#4e4e4e" stroke-width="1"/>
<line x1="417.70" y1="81.89" x2="449.70" y2="81.89" stroke="#4e4e4e" stroke-width="1"/>
<line x1="417.70" y1="98.62" x2="449.70" y2="98.62" stroke="#4e4e4e" stroke-width="1"/>
<line x1="417.70" y1="115.35" x2="449.70" y2="115.35" stroke="#4e4e4e" stroke-width="1"/>
<line x1="417.70" y1="132.08" x2="449.70" y2="132.08" stroke="#4e4e4e" stroke-width="1"/>
<line x1="417.70" y1="148.81" x2="449.70" y2="148.81" stroke="#4e4e4e" stroke-width="1"/>
<line x1="417.70" y1="165.54" x2="449.70" y2="165.54" stroke="#4e4e4e" stroke-width="1"/>
<line x1="417.70" y1="182.27" x2="449.70" y2="182.27" stroke="#4e4e4e" stroke-width="1"/>
<rect x="266.40" y="189.60" width="16.00" height="16.73" fill="#1c7fcb"/>
<text x="269.00" y="197.50" font-size="5.3" text-anchor="start" fill="#fff" font-weight="normal" letter-spacing="0.12">87.7</text>
<text x="269.00" y="203.80" font-size="5.3" text-anchor="start" fill="#fff" font-weight="normal" >%</text>
<rect x="266.40" y="206.33" width="16.00" height="16.73" fill="#f8e1d7"/>
<text x="269.00" y="214.23" font-size="5.3" text-anchor="start" fill="#000" font-weight="normal" letter-spacing="0.12">12.3</text>
<text x="269.00" y="220.53" font-size="5.3" text-anchor="start" fill="#000" font-weight="normal" >%</text>
<rect x="282.40" y="189.60" width="16.00" height="16.73" fill="#2483cd"/>
<text x="285.00" y="197.50" font-size="5.3" text-anchor="start" fill="#fff" font-weight="normal" letter-spacing="0.12">84.4</text>
<text x="285.00" y="203.80" font-size="5.3" text-anchor="start" fill="#fff" font-weight="normal" >%</text>
<rect x="282.40" y="206.33" width="16.00" height="16.73" fill="#f7dbce"/>
<text x="285.00" y="214.23" font-size="5.3" text-anchor="start" fill="#000" font-weight="normal" letter-spacing="0.12">15.6</text>
<text x="285.00" y="220.53" font-size="5.3" text-anchor="start" fill="#000" font-weight="normal" >%</text>
<rect x="298.40" y="189.60" width="16.00" height="16.73" fill="#1179c8"/>
<text x="301.00" y="197.50" font-size="5.3" text-anchor="start" fill="#fff" font-weight="normal" letter-spacing="0.12">93.0</text>
<text x="301.00" y="203.80" font-size="5.3" text-anchor="start" fill="#fff" font-weight="normal" >%</text>
<rect x="298.40" y="206.33" width="16.00" height="16.73" fill="#fbebe4"/>
<text x="302.54" y="214.23" font-size="5.3" text-anchor="start" fill="#000" font-weight="normal" letter-spacing="0.12">7.0</text>
<text x="302.54" y="220.53" font-size="5.3" text-anchor="start" fill="#000" font-weight="normal" >%</text>
<rect x="314.40" y="189.60" width="16.00" height="16.73" fill="#147ac9"/>
<text x="317.00" y="197.50" font-size="5.3" text-anchor="start" fill="#fff" font-weight="normal" letter-spacing="0.12">91.4</text>
<text x="317.00" y="203.80" font-size="5.3" text-anchor="start" fill="#fff" font-weight="normal" >%</text>
<rect x="314.40" y="206.33" width="16.00" height="16.73" fill="#fae8e0"/>
<text x="318.54" y="214.23" font-size="5.3" text-anchor="start" fill="#000" font-weight="normal" letter-spacing="0.12">8.6</text>
<text x="318.54" y="220.53" font-size="5.3" text-anchor="start" fill="#000" font-weight="normal" >%</text>
<rect x="330.40" y="189.60" width="16.00" height="16.73" fill="#187dca"/>
<text x="333.00" y="197.50" font-size="5.3" text-anchor="start" fill="#fff" font-weight="normal" letter-spacing="0.12">89.7</text>
<text x="333.00" y="203.80" font-size="5.3" text-anchor="start" fill="#fff" font-weight="normal" >%</text>
<rect x="330.40" y="206.33" width="16.00" height="16.73" fill="#f9e5dc"/>
<text x="333.00" y="214.23" font-size="5.3" text-anchor="start" fill="#000" font-weight="normal" letter-spacing="0.12">10.3</text>
<text x="333.00" y="220.53" font-size="5.3" text-anchor="start" fill="#000" font-weight="normal" >%</text>
<rect x="346.40" y="189.60" width="16.00" height="16.73" fill="#1279c9"/>
<text x="349.00" y="197.50" font-size="5.3" text-anchor="start" fill="#fff" font-weight="normal" letter-spacing="0.12">92.5</text>
<text x="349.00" y="203.80" font-size="5.3" text-anchor="start" fill="#fff" font-weight="normal" >%</text>
<rect x="346.40" y="206.33" width="16.00" height="16.73" fill="#faeae3"/>
<text x="350.54" y="214.23" font-size="5.3" text-anchor="start" fill="#000" font-weight="normal" letter-spacing="0.12">7.5</text>
<text x="350.54" y="220.53" font-size="5.3" text-anchor="start" fill="#000" font-weight="normal" >%</text>
<rect x="362.40" y="189.60" width="16.00" height="16.73" fill="#187cca"/>
<text x="365.00" y="197.50" font-size="5.3" text-anchor="start" fill="#fff" font-weight="normal" letter-spacing="0.12">90.0</text>
<text x="365.00" y="203.80" font-size="5.3" text-anchor="start" fill="#fff" font-weight="normal" >%</text>
<rect x="362.40" y="206.33" width="16.00" height="16.73" fill="#f9e5dc"/>
<text x="365.00" y="214.23" font-size="5.3" text-anchor="start" fill="#000" font-weight="normal" letter-spacing="0.12">10.0</text>
<text x="365.00" y="220.53" font-size="5.3" text-anchor="start" fill="#000" font-weight="normal" >%</text>
<rect x="378.40" y="189.60" width="16.00" height="16.73" fill="#2f89cf"/>
<text x="381.00" y="197.50" font-size="5.3" text-anchor="start" fill="#fff" font-weight="normal" letter-spacing="0.12">79.1</text>
<text x="381.00" y="203.80" font-size="5.3" text-anchor="start" fill="#fff" font-weight="normal" >%</text>
<rect x="378.40" y="206.33" width="16.00" height="16.73" fill="#f5d1c1"/>
<text x="381.00" y="214.23" font-size="5.3" text-anchor="start" fill="#000" font-weight="normal" letter-spacing="0.12">20.9</text>
<text x="381.00" y="220.53" font-size="5.3" text-anchor="start" fill="#000" font-weight="normal" >%</text>
<rect x="394.40" y="189.60" width="16.00" height="16.73" fill="#1178c8"/>
<text x="397.00" y="197.50" font-size="5.3" text-anchor="start" fill="#fff" font-weight="normal" letter-spacing="0.12">93.1</text>
<text x="397.00" y="203.80" font-size="5.3" text-anchor="start" fill="#fff" font-weight="normal" >%</text>
<rect x="394.40" y="206.33" width="16.00" height="16.73" fill="#fbebe4"/>
<text x="398.54" y="214.23" font-size="5.3" text-anchor="start" fill="#000" font-weight="normal" letter-spacing="0.12">6.9</text>
<text x="398.54" y="220.53" font-size="5.3" text-anchor="start" fill="#000" font-weight="normal" >%</text>
<line x1="266.40" y1="189.60" x2="266.40" y2="223.06" stroke="#4e4e4e" stroke-width="1"/>
<line x1="282.40" y1="189.60" x2="282.40" y2="223.06" stroke="#4e4e4e" stroke-width="1"/>
<line x1="298.40" y1="189.60" x2="298.40" y2="223.06" stroke="#4e4e4e" stroke-width="1"/>
<line x1="314.40" y1="189.60" x2="314.40" y2="223.06" stroke="#4e4e4e" stroke-width="1"/>
<line x1="330.40" y1="189.60" x2="330.40" y2="223.06" stroke="#4e4e4e" stroke-width="1"/>
<line x1="346.40" y1="189.60" x2="346.40" y2="223.06" stroke="#4e4e4e" stroke-width="1"/>
<line x1="362.40" y1="189.60" x2="362.40" y2="223.06" stroke="#4e4e4e" stroke-width="1"/>
<line x1="378.40" y1="189.60" x2="378.40" y2="223.06" stroke="#4e4e4e" stroke-width="1"/>
<line x1="394.40" y1="189.60" x2="394.40" y2="223.06" stroke="#4e4e4e" stroke-width="1"/>
<line x1="410.40" y1="189.60" x2="410.40" y2="223.06" stroke="#4e4e4e" stroke-width="1"/>
<line x1="266.40" y1="189.60" x2="410.40" y2="189.60" stroke="#4e4e4e" stroke-width="1"/>
<line x1="266.40" y1="206.33" x2="410.40" y2="206.33" stroke="#4e4e4e" stroke-width="1"/>
<line x1="266.40" y1="223.06" x2="410.40" y2="223.06" stroke="#4e4e4e" stroke-width="1"/>
<text x="274.40" y="235.30" font-size="8.8" text-anchor="middle" fill="#000" font-weight="normal" >1</text>
<text x="290.40" y="235.30" font-size="8.8" text-anchor="middle" fill="#000" font-weight="normal" >2</text>
<text x="306.40" y="235.30" font-size="8.8" text-anchor="middle" fill="#000" font-weight="normal" >3</text>
<text x="322.40" y="235.30" font-size="8.8" text-anchor="middle" fill="#000" font-weight="normal" >4</text>
<text x="338.40" y="235.30" font-size="8.8" text-anchor="middle" fill="#000" font-weight="normal" >5</text>
<text x="354.40" y="235.30" font-size="8.8" text-anchor="middle" fill="#000" font-weight="normal" >6</text>
<text x="370.40" y="235.30" font-size="8.8" text-anchor="middle" fill="#000" font-weight="normal" >7</text>
<text x="386.40" y="235.30" font-size="8.8" text-anchor="middle" fill="#000" font-weight="normal" >8</text>
<text x="402.40" y="235.30" font-size="8.8" text-anchor="middle" fill="#000" font-weight="normal" >9</text>
<text class="k" x="310.20" y="22.80" font-size="12.0" text-anchor="start" fill="#000" font-weight="normal" >Ctrl-Group</text>
<text class="k" x="338.40" y="249.90" font-size="11.85" text-anchor="middle" fill="#000" font-weight="normal" >Predicted Group</text>
<text x="0" y="0" font-size="12.2" class="k" text-anchor="middle" transform="translate(243.20,106.58) rotate(-90)">Actual Group</text>
<rect x="58.90" y="309.48" width="16.9" height="135.32" fill="#0072bd" stroke="#1a1a1a" stroke-width="0.8"/>
<text class="k" x="67.35" y="305.48" font-size="9" text-anchor="middle" fill="#000" font-weight="normal" >96.8</text>
<rect x="82.00" y="374.72" width="16.9" height="70.08" fill="#d9531e" stroke="#1a1a1a" stroke-width="0.8"/>
<text class="k" x="90.45" y="370.72" font-size="9" text-anchor="middle" fill="#000" font-weight="normal" >88.7</text>
<rect x="151.50" y="322.36" width="16.9" height="122.44" fill="#0072bd" stroke="#1a1a1a" stroke-width="0.8"/>
<text class="k" x="159.95" y="318.36" font-size="9" text-anchor="middle" fill="#000" font-weight="normal" >95.2</text>
<rect x="174.60" y="390.83" width="16.9" height="53.97" fill="#d9531e" stroke="#1a1a1a" stroke-width="0.8"/>
<text class="k" x="183.05" y="386.83" font-size="9" text-anchor="middle" fill="#000" font-weight="normal" >86.7</text>
<rect x="33.8" y="283.7" width="183.00" height="161.10" fill="none" stroke="#575757" stroke-width="1"/>
<line x1="33.8" y1="444.80" x2="35.599999999999994" y2="444.80" stroke="#575757" stroke-width="1"/>
<line x1="216.8" y1="444.80" x2="215.0" y2="444.80" stroke="#575757" stroke-width="1"/>
<text class="k" x="28.60" y="448.20" font-size="10" text-anchor="end" fill="#000" font-weight="normal" >80</text>
<line x1="33.8" y1="404.52" x2="35.599999999999994" y2="404.52" stroke="#575757" stroke-width="1"/>
<line x1="216.8" y1="404.52" x2="215.0" y2="404.52" stroke="#575757" stroke-width="1"/>
<text class="k" x="28.60" y="407.92" font-size="10" text-anchor="end" fill="#000" font-weight="normal" >85</text>
<line x1="33.8" y1="364.25" x2="35.599999999999994" y2="364.25" stroke="#575757" stroke-width="1"/>
<line x1="216.8" y1="364.25" x2="215.0" y2="364.25" stroke="#575757" stroke-width="1"/>
<text class="k" x="28.60" y="367.65" font-size="10" text-anchor="end" fill="#000" font-weight="normal" >90</text>
<line x1="33.8" y1="323.98" x2="35.599999999999994" y2="323.98" stroke="#575757" stroke-width="1"/>
<line x1="216.8" y1="323.98" x2="215.0" y2="323.98" stroke="#575757" stroke-width="1"/>
<text class="k" x="28.60" y="327.38" font-size="10" text-anchor="end" fill="#000" font-weight="normal" >95</text>
<line x1="33.8" y1="283.70" x2="35.599999999999994" y2="283.70" stroke="#575757" stroke-width="1"/>
<line x1="216.8" y1="283.70" x2="215.0" y2="283.70" stroke="#575757" stroke-width="1"/>
<text class="k" x="28.60" y="287.10" font-size="10" text-anchor="end" fill="#000" font-weight="normal" >100</text>
<line x1="78.9" y1="444.8" x2="78.9" y2="441.8" stroke="#575757" stroke-width="1"/>
<line x1="78.9" y1="283.7" x2="78.9" y2="286.7" stroke="#575757" stroke-width="1"/>
<line x1="171.5" y1="444.8" x2="171.5" y2="441.8" stroke="#575757" stroke-width="1"/>
<line x1="171.5" y1="283.7" x2="171.5" y2="286.7" stroke="#575757" stroke-width="1"/>
<text class="k" x="79.60" y="461.00" font-size="11.7" text-anchor="middle" fill="#000" font-weight="normal" >10 folds</text>
<text class="k" x="170.90" y="461.00" font-size="11.7" text-anchor="middle" fill="#000" font-weight="normal" >5 folds</text>
<text class="k" x="0" y="0" font-size="12" text-anchor="middle" transform="translate(11.2,364.75) rotate(-90)">Accuracy (%)</text>
<rect x="82" y="288.8" width="12" height="9.5" fill="#0072bd" stroke="#1a1a1a" stroke-width="0.8"/>
<text class="k" x="96.70" y="297.20" font-size="9.3" text-anchor="start" fill="#000" font-weight="normal" >Meta-Group</text>
<rect x="154.7" y="288.8" width="12" height="9.5" fill="#d9531e" stroke="#1a1a1a" stroke-width="0.8"/>
<text class="k" x="169.20" y="297.20" font-size="9.3" text-anchor="start" fill="#000" font-weight="normal" >Ctrl-Group</text>
<polyline points="275.23,300.87 293.49,316.69 311.75,312.94 330.01,317.50 348.27,312.67 366.53,320.72 384.79,325.55 403.05,330.38 421.31,333.06 439.57,332.52" fill="none" stroke="#0072bd" stroke-width="1.4"/>
<polyline points="275.23,309.45 293.49,334.67 311.75,322.86 330.01,328.77 348.27,326.62 366.53,334.94 384.79,334.13 403.05,339.23 421.31,337.08 439.57,340.57" fill="none" stroke="#0072bd" stroke-width="1.4" stroke-dasharray="2,1.6"/>
<polyline points="275.23,344.32 293.49,382.42 311.75,371.69 330.01,373.30 348.27,387.51 366.53,384.56 384.79,387.51 403.05,396.90 421.31,402.80 439.57,398.51" fill="none" stroke="#d9531e" stroke-width="1.4"/>
<polyline points="275.23,355.05 293.49,401.19 311.75,380.54 330.01,397.97 348.27,396.90 366.53,404.41 384.79,413.53 403.05,415.68 421.31,422.65 439.57,423.99" fill="none" stroke="#d9531e" stroke-width="1.4" stroke-dasharray="2,1.6"/>
<circle cx="275.23" cy="300.87" r="3.1" fill="#fff" stroke="#0072bd" stroke-width="1.4"/>
<polygon points="275.23,306.55 278.83,312.85 271.63,312.85" fill="#fff" stroke="#0072bd" stroke-width="1.4"/>
<rect x="272.33" y="341.42" width="5.80" height="5.80" fill="#fff" stroke="#d9531e" stroke-width="1.4"/>
<polygon points="275.23,358.45 278.83,352.15 271.63,352.15" fill="#fff" stroke="#d9531e" stroke-width="1.4"/>
<circle cx="293.49" cy="316.69" r="3.1" fill="#fff" stroke="#0072bd" stroke-width="1.4"/>
<polygon points="293.49,331.77 297.09,338.07 289.89,338.07" fill="#fff" stroke="#0072bd" stroke-width="1.4"/>
<rect x="290.59" y="379.52" width="5.80" height="5.80" fill="#fff" stroke="#d9531e" stroke-width="1.4"/>
<polygon points="293.49,404.59 297.09,398.29 289.89,398.29" fill="#fff" stroke="#d9531e" stroke-width="1.4"/>
<circle cx="311.75" cy="312.94" r="3.1" fill="#fff" stroke="#0072bd" stroke-width="1.4"/>
<polygon points="311.75,319.96 315.35,326.26 308.15,326.26" fill="#fff" stroke="#0072bd" stroke-width="1.4"/>
<rect x="308.85" y="368.79" width="5.80" height="5.80" fill="#fff" stroke="#d9531e" stroke-width="1.4"/>
<polygon points="311.75,383.94 315.35,377.64 308.15,377.64" fill="#fff" stroke="#d9531e" stroke-width="1.4"/>
<circle cx="330.01" cy="317.50" r="3.1" fill="#fff" stroke="#0072bd" stroke-width="1.4"/>
<polygon points="330.01,325.87 333.61,332.17 326.41,332.17" fill="#fff" stroke="#0072bd" stroke-width="1.4"/>
<rect x="327.11" y="370.40" width="5.80" height="5.80" fill="#fff" stroke="#d9531e" stroke-width="1.4"/>
<polygon points="330.01,401.37 333.61,395.07 326.41,395.07" fill="#fff" stroke="#d9531e" stroke-width="1.4"/>
<circle cx="348.27" cy="312.67" r="3.1" fill="#fff" stroke="#0072bd" stroke-width="1.4"/>
<polygon points="348.27,323.72 351.87,330.02 344.67,330.02" fill="#fff" stroke="#0072bd" stroke-width="1.4"/>
<rect x="345.37" y="384.61" width="5.80" height="5.80" fill="#fff" stroke="#d9531e" stroke-width="1.4"/>
<polygon points="348.27,400.30 351.87,394.00 344.67,394.00" fill="#fff" stroke="#d9531e" stroke-width="1.4"/>
<circle cx="366.53" cy="320.72" r="3.1" fill="#fff" stroke="#0072bd" stroke-width="1.4"/>
<polygon points="366.53,332.04 370.13,338.34 362.93,338.34" fill="#fff" stroke="#0072bd" stroke-width="1.4"/>
<rect x="363.63" y="381.66" width="5.80" height="5.80" fill="#fff" stroke="#d9531e" stroke-width="1.4"/>
<polygon points="366.53,407.81 370.13,401.51 362.93,401.51" fill="#fff" stroke="#d9531e" stroke-width="1.4"/>
<circle cx="384.79" cy="325.55" r="3.1" fill="#fff" stroke="#0072bd" stroke-width="1.4"/>
<polygon points="384.79,331.23 388.39,337.53 381.19,337.53" fill="#fff" stroke="#0072bd" stroke-width="1.4"/>
<rect x="381.89" y="384.61" width="5.80" height="5.80" fill="#fff" stroke="#d9531e" stroke-width="1.4"/>
<polygon points="384.79,416.93 388.39,410.63 381.19,410.63" fill="#fff" stroke="#d9531e" stroke-width="1.4"/>
<circle cx="403.05" cy="330.38" r="3.1" fill="#fff" stroke="#0072bd" stroke-width="1.4"/>
<polygon points="403.05,336.33 406.65,342.63 399.45,342.63" fill="#fff" stroke="#0072bd" stroke-width="1.4"/>
<rect x="400.15" y="394.00" width="5.80" height="5.80" fill="#fff" stroke="#d9531e" stroke-width="1.4"/>
<polygon points="403.05,419.08 406.65,412.78 399.45,412.78" fill="#fff" stroke="#d9531e" stroke-width="1.4"/>
<circle cx="421.31" cy="333.06" r="3.1" fill="#fff" stroke="#0072bd" stroke-width="1.4"/>
<polygon points="421.31,334.18 424.91,340.48 417.71,340.48" fill="#fff" stroke="#0072bd" stroke-width="1.4"/>
<rect x="418.41" y="399.90" width="5.80" height="5.80" fill="#fff" stroke="#d9531e" stroke-width="1.4"/>
<polygon points="421.31,426.05 424.91,419.75 417.71,419.75" fill="#fff" stroke="#d9531e" stroke-width="1.4"/>
<circle cx="439.57" cy="332.52" r="3.1" fill="#fff" stroke="#0072bd" stroke-width="1.4"/>
<polygon points="439.57,337.67 443.17,343.97 435.97,343.97" fill="#fff" stroke="#0072bd" stroke-width="1.4"/>
<rect x="436.67" y="395.61" width="5.80" height="5.80" fill="#fff" stroke="#d9531e" stroke-width="1.4"/>
<polygon points="439.57,427.39 443.17,421.09 435.97,421.09" fill="#fff" stroke="#d9531e" stroke-width="1.4"/>
<rect x="266.1" y="283.7" width="182.60" height="160.95" fill="none" stroke="#575757" stroke-width="1"/>
<line x1="266.1" y1="444.65" x2="267.90000000000003" y2="444.65" stroke="#575757" stroke-width="1"/>
<line x1="448.7" y1="444.65" x2="446.9" y2="444.65" stroke="#575757" stroke-width="1"/>
<text class="k" x="260.80" y="447.85" font-size="10" text-anchor="end" fill="#000" font-weight="normal" >70</text>
<line x1="266.1" y1="417.82" x2="267.90000000000003" y2="417.82" stroke="#575757" stroke-width="1"/>
<line x1="448.7" y1="417.82" x2="446.9" y2="417.82" stroke="#575757" stroke-width="1"/>
<text class="k" x="260.80" y="421.02" font-size="10" text-anchor="end" fill="#000" font-weight="normal" >75</text>
<line x1="266.1" y1="391.00" x2="267.90000000000003" y2="391.00" stroke="#575757" stroke-width="1"/>
<line x1="448.7" y1="391.00" x2="446.9" y2="391.00" stroke="#575757" stroke-width="1"/>
<text class="k" x="260.80" y="394.20" font-size="10" text-anchor="end" fill="#000" font-weight="normal" >80</text>
<line x1="266.1" y1="364.17" x2="267.90000000000003" y2="364.17" stroke="#575757" stroke-width="1"/>
<line x1="448.7" y1="364.17" x2="446.9" y2="364.17" stroke="#575757" stroke-width="1"/>
<text class="k" x="260.80" y="367.37" font-size="10" text-anchor="end" fill="#000" font-weight="normal" >85</text>
<line x1="266.1" y1="337.35" x2="267.90000000000003" y2="337.35" stroke="#575757" stroke-width="1"/>
<line x1="448.7" y1="337.35" x2="446.9" y2="337.35" stroke="#575757" stroke-width="1"/>
<text class="k" x="260.80" y="340.55" font-size="10" text-anchor="end" fill="#000" font-weight="normal" >90</text>
<line x1="266.1" y1="310.52" x2="267.90000000000003" y2="310.52" stroke="#575757" stroke-width="1"/>
<line x1="448.7" y1="310.52" x2="446.9" y2="310.52" stroke="#575757" stroke-width="1"/>
<text class="k" x="260.80" y="313.72" font-size="10" text-anchor="end" fill="#000" font-weight="normal" >95</text>
<line x1="266.1" y1="283.70" x2="267.90000000000003" y2="283.70" stroke="#575757" stroke-width="1"/>
<line x1="448.7" y1="283.70" x2="446.9" y2="283.70" stroke="#575757" stroke-width="1"/>
<text class="k" x="260.80" y="286.90" font-size="10" text-anchor="end" fill="#000" font-weight="normal" >100</text>
<line x1="293.49" y1="444.65" x2="293.49" y2="442.84999999999997" stroke="#575757" stroke-width="1"/>
<line x1="293.49" y1="283.7" x2="293.49" y2="285.5" stroke="#575757" stroke-width="1"/>
<text class="k" x="293.49" y="458.00" font-size="10" text-anchor="middle" fill="#000" font-weight="normal" >2</text>
<line x1="330.01" y1="444.65" x2="330.01" y2="442.84999999999997" stroke="#575757" stroke-width="1"/>
<line x1="330.01" y1="283.7" x2="330.01" y2="285.5" stroke="#575757" stroke-width="1"/>
<text class="k" x="330.01" y="458.00" font-size="10" text-anchor="middle" fill="#000" font-weight="normal" >4</text>
<line x1="366.53" y1="444.65" x2="366.53" y2="442.84999999999997" stroke="#575757" stroke-width="1"/>
<line x1="366.53" y1="283.7" x2="366.53" y2="285.5" stroke="#575757" stroke-width="1"/>
<text class="k" x="366.53" y="458.00" font-size="10" text-anchor="middle" fill="#000" font-weight="normal" >6</text>
<line x1="403.05" y1="444.65" x2="403.05" y2="442.84999999999997" stroke="#575757" stroke-width="1"/>
<line x1="403.05" y1="283.7" x2="403.05" y2="285.5" stroke="#575757" stroke-width="1"/>
<text class="k" x="403.05" y="458.00" font-size="10" text-anchor="middle" fill="#000" font-weight="normal" >8</text>
<line x1="439.57" y1="444.65" x2="439.57" y2="442.84999999999997" stroke="#575757" stroke-width="1"/>
<line x1="439.57" y1="283.7" x2="439.57" y2="285.5" stroke="#575757" stroke-width="1"/>
<text class="k" x="439.57" y="458.00" font-size="10" text-anchor="middle" fill="#000" font-weight="normal" >10</text>
<text class="k" x="357.40" y="472.30" font-size="11.7" text-anchor="middle" fill="#000" font-weight="normal" >K value</text>
<text class="k" x="0" y="0" font-size="12" text-anchor="middle" transform="translate(241.0,364.67) rotate(-90)">Accuracy (%)</text>
<line x1="335.3" y1="290.0" x2="352.7" y2="290.0" stroke="#0072bd" stroke-width="1.4"/>
<circle cx="344.00" cy="290.00" r="3.1" fill="#fff" stroke="#0072bd" stroke-width="1.4"/>
<line x1="335.3" y1="302.7" x2="352.7" y2="302.7" stroke="#0072bd" stroke-width="1.4" stroke-dasharray="2,1.6"/>
<polygon points="344.00,299.80 347.60,306.10 340.40,306.10" fill="#fff" stroke="#0072bd" stroke-width="1.4"/>
<text class="k" x="356.00" y="293.40" font-size="9.3" text-anchor="start" fill="#000" font-weight="normal" >Meta-Group (10 folds)</text>
<text class="k" x="356.00" y="306.10" font-size="9.3" text-anchor="start" fill="#000" font-weight="normal" >Meta-Group (5 folds)</text>
<line x1="270.4" y1="421.9" x2="287.7" y2="421.9" stroke="#d9531e" stroke-width="1.4"/>
<rect x="276.10" y="419.00" width="5.80" height="5.80" fill="#fff" stroke="#d9531e" stroke-width="1.4"/>
<line x1="270.4" y1="434.6" x2="287.7" y2="434.6" stroke="#d9531e" stroke-width="1.4" stroke-dasharray="2,1.6"/>
<polygon points="279.00,438.00 282.60,431.70 275.40,431.70" fill="#fff" stroke="#d9531e" stroke-width="1.4"/>
<text class="k" x="290.80" y="425.30" font-size="9.3" text-anchor="start" fill="#000" font-weight="normal" >Ctrl-Group (10 folds)</text>
<text class="k" x="290.80" y="438.00" font-size="9.3" text-anchor="start" fill="#000" font-weight="normal" >Ctrl-Group (5 folds)</text>
</svg>
</body></html>
